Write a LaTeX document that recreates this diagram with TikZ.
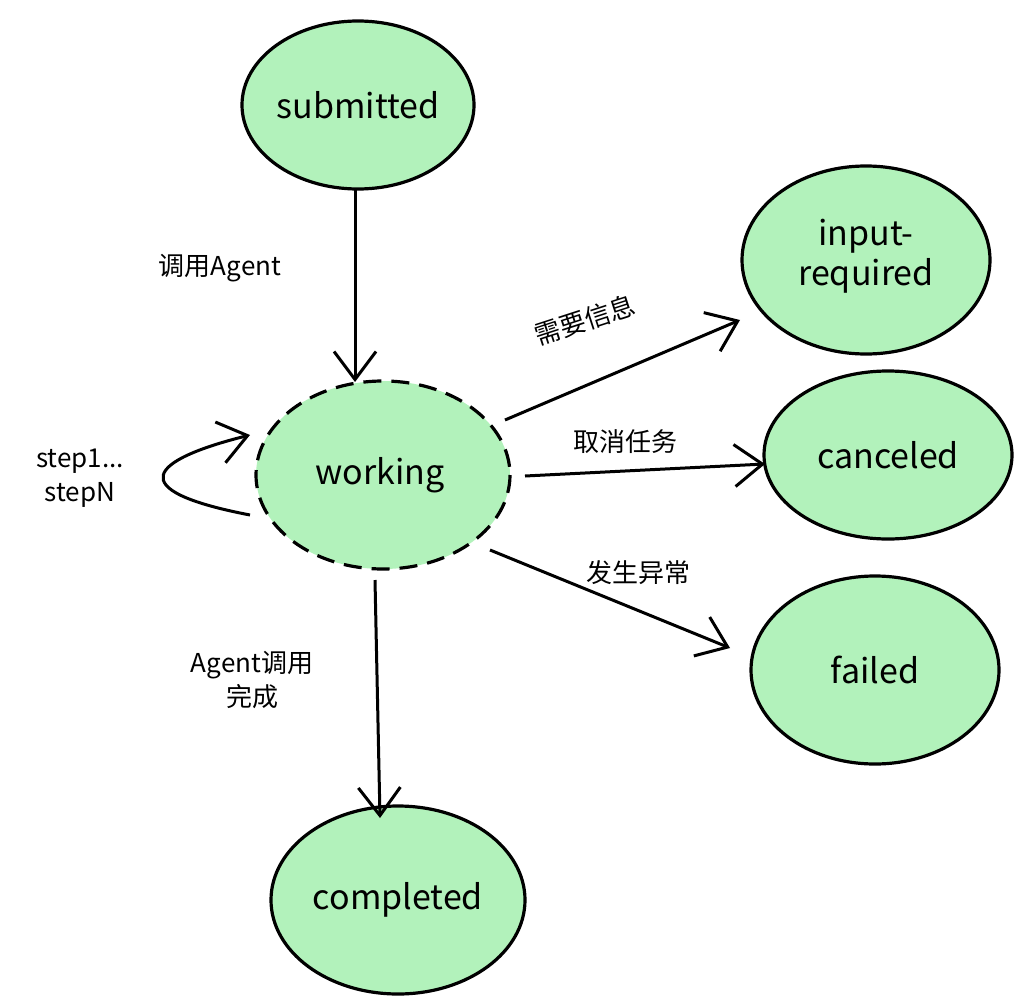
\documentclass[tikz,border=0pt]{standalone}
\usepackage{fontspec}
\setmainfont{Noto Sans CJK SC}
\usetikzlibrary{arrows.meta}
\definecolor{fillg}{HTML}{B2F2BB}
\begin{document}
\begin{tikzpicture}[x=1pt,y=-1pt,
  st/.style={draw=black,line width=3.2pt,fill=fillg},
  nt/.style={font=\fontsize{34}{40}\selectfont,align=center},
  lb/.style={font=\fontsize{26}{34}\selectfont,align=center},
  ar/.style={line width=3pt,-{Straight Barb[length=28pt,width=42pt,line width=3pt]}}]
\useasboundingbox (0,0) rectangle (1030,1006);
\draw[st] (358,105) ellipse [x radius=116,y radius=84];
\node[nt] (sub) at (358,105) {submitted};
\draw[st] (866,260) ellipse [x radius=124,y radius=94];
\node[nt] (inp) at (866,256) {input-\\required};
\draw[st] (888,455) ellipse [x radius=124,y radius=84];
\node[nt] (can) at (888,455) {canceled};
\draw[st,dash pattern=on 18pt off 10pt] (383,475) ellipse [x radius=127,y radius=94];
\node[nt] (wor) at (380,475) {working};
\draw[st] (875,670) ellipse [x radius=124,y radius=94];
\node[nt] (fai) at (875,670) {failed};
\draw[st] (398,900) ellipse [x radius=127,y radius=94];
\node[nt] (com) at (398,900) {completed};
\coordinate (a1) at (355,190); \coordinate (a2) at (355,382);
\coordinate (b1) at (505,420); \coordinate (b2) at (740,320);
\coordinate (c1) at (525,476); \coordinate (c2) at (765,464);
\coordinate (d1) at (490,550); \coordinate (d2) at (730,648);
\coordinate (e1) at (375,580); \coordinate (e2) at (380,818);
\coordinate (f1) at (250,515); \coordinate (f2) at (250,435);
\draw[ar] (a1) -- (a2);
\draw[ar] (b1) -- (b2);
\draw[ar] (c1) -- (c2);
\draw[ar] (d1) -- (d2);
\draw[ar] (e1) -- (e2);
\draw[ar] (f1) .. controls (120,490) and (150,460) .. (f2);
\node[lb] (l1) at (220,268) {调用Agent};
\node[lb,rotate=18] (l2) at (585,320) {需要信息};
\node[lb] (l3) at (625,442) {取消任务};
\node[lb] (l4) at (638,573) {发生异常};
\node[lb] (l5) at (252,680) {Agent调用\\完成};
\node[lb] (l6) at (80,478) {step1...\\stepN};
\end{tikzpicture}
\end{document}
